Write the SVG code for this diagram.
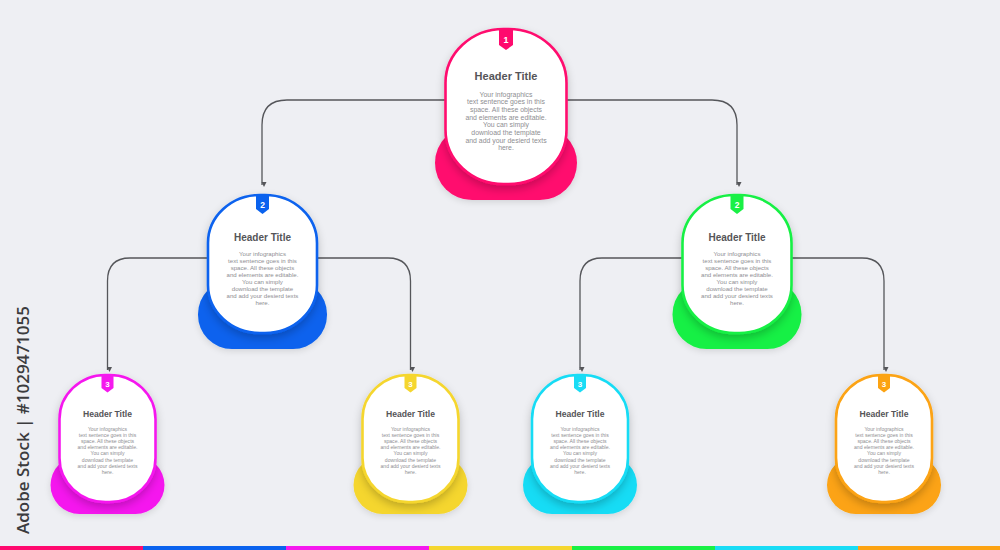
<svg xmlns="http://www.w3.org/2000/svg" width="1000" height="550" viewBox="0 0 1000 550">
<defs>
<style>
.card{fill:#ffffff;stroke-width:2.6;filter:url(#sh)}
.blob{filter:url(#sh2)}
.hd{font-family:"Liberation Sans",Arial,sans-serif;font-weight:bold;fill:#555558;text-anchor:middle}
.bd{font-family:"Liberation Sans",Arial,sans-serif;fill:#8e8e92;text-anchor:middle}
.num{font-family:"Liberation Sans",Arial,sans-serif;font-weight:bold;fill:#ffffff;text-anchor:middle}
.conn{fill:none;stroke:#55565a;stroke-width:1.3;marker-end:url(#ah)}
</style>
<filter id="sh" x="-30%" y="-20%" width="160%" height="150%">
<feDropShadow dx="0" dy="4" stdDeviation="4" flood-color="#000" flood-opacity="0.22"/>
</filter>
<filter id="sh2" x="-30%" y="-30%" width="160%" height="170%">
<feDropShadow dx="0" dy="2" stdDeviation="3" flood-color="#000" flood-opacity="0.12"/>
</filter>
<marker id="ah" markerUnits="userSpaceOnUse" markerWidth="6" markerHeight="6" refX="3" refY="5" orient="auto-start-reverse" viewBox="0 0 6 6">
<path d="M0.5,0 L5.5,0 L3,5 Z" fill="#55565a" transform="rotate(-90 3 3)"/>
</marker>
</defs>
<rect width="1000" height="550" fill="#eeeff3"/>

<g id="connectors">
<path class="conn" d="M446,100 H287 Q262,100 262,125 V185"/>
<path class="conn" d="M566,100 H712 Q737,100 737,125 V185"/>
<path class="conn" d="M208,258 H130 Q107.5,258 107.5,281 V370"/>
<path class="conn" d="M317,258 H388 Q410.5,258 410.5,281 V370"/>
<path class="conn" d="M683,258 H602 Q580,258 580,281 V370"/>
<path class="conn" d="M791,258 H862 Q884,258 884,281 V370"/>
</g>

<g id="node1">
<rect class="blob" x="435" y="126" width="142" height="74" rx="37" fill="#ff0a6e"/>
<rect class="card" x="445.5" y="29" width="121" height="155" rx="58" ry="54" stroke="#ff0a6e"/>
<path d="M499,28 H513 V45 L506,50 L499,45 Z" fill="#ff0a6e"/>
<text class="num" x="506" y="43" font-size="9">1</text>
<text class="hd" x="506" y="80" font-size="11">Header Title</text>
<text class="bd" font-size="6.9"><tspan x="506" y="96.5">Your infographics</tspan><tspan x="506" y="104.2">text sentence goes in this</tspan><tspan x="506" y="111.9">space. All these objects</tspan><tspan x="506" y="119.6">and elements are editable.</tspan><tspan x="506" y="127.3">You can simply</tspan><tspan x="506" y="135">download the template</tspan><tspan x="506" y="142.7">and add your desierd texts</tspan><tspan x="506" y="150.4">here.</tspan></text>
</g>

<g id="node2a">
<rect class="blob" x="198" y="280" width="129" height="69" rx="34" fill="#0a62ee"/>
<rect class="card" x="208" y="195" width="109" height="138" rx="52" ry="48" stroke="#0a62ee"/>
<path d="M256,194 H269 V209 L262.5,214 L256,209 Z" fill="#0a62ee"/>
<text class="num" x="262.5" y="207.5" font-size="8.5">2</text>
<text class="hd" x="262.5" y="240.5" font-size="10">Header Title</text>
<text class="bd" font-size="6.1"><tspan x="262.5" y="255.5">Your infographics</tspan><tspan x="262.5" y="262.6">text sentence goes in this</tspan><tspan x="262.5" y="269.7">space. All these objects</tspan><tspan x="262.5" y="276.8">and elements are editable.</tspan><tspan x="262.5" y="283.9">You can simply</tspan><tspan x="262.5" y="291">download the template</tspan><tspan x="262.5" y="298.1">and add your desierd texts</tspan><tspan x="262.5" y="305.2">here.</tspan></text>
</g>

<g id="node2b">
<rect class="blob" x="672.5" y="280" width="129" height="69" rx="34" fill="#19f045"/>
<rect class="card" x="682.5" y="195" width="109" height="138" rx="52" ry="48" stroke="#19f045"/>
<path d="M730.5,194 H743.5 V209 L737,214 L730.5,209 Z" fill="#19f045"/>
<text class="num" x="737" y="207.5" font-size="8.5">2</text>
<text class="hd" x="737" y="240.5" font-size="10">Header Title</text>
<text class="bd" font-size="6.1"><tspan x="737" y="255.5">Your infographics</tspan><tspan x="737" y="262.6">text sentence goes in this</tspan><tspan x="737" y="269.7">space. All these objects</tspan><tspan x="737" y="276.8">and elements are editable.</tspan><tspan x="737" y="283.9">You can simply</tspan><tspan x="737" y="291">download the template</tspan><tspan x="737" y="298.1">and add your desierd texts</tspan><tspan x="737" y="305.2">here.</tspan></text>
</g>

<g id="node3a">
<rect class="blob" x="50.5" y="456" width="114" height="58" rx="29" fill="#f519ee"/>
<rect class="card" x="59.5" y="375" width="96" height="127" rx="46" ry="44" stroke="#f519ee"/>
<path d="M101.5,374 H113.5 V388 L107.5,392.5 L101.5,388 Z" fill="#f519ee"/>
<text class="num" x="107.5" y="386.5" font-size="8">3</text>
<text class="hd" x="107.5" y="416.5" font-size="8.6">Header Title</text>
<text class="bd" font-size="5.1"><tspan x="107.5" y="431">Your infographics</tspan><tspan x="107.5" y="437.1">text sentence goes in this</tspan><tspan x="107.5" y="443.2">space. All these objects</tspan><tspan x="107.5" y="449.3">and elements are editable.</tspan><tspan x="107.5" y="455.4">You can simply</tspan><tspan x="107.5" y="461.5">download the template</tspan><tspan x="107.5" y="467.6">and add your desierd texts</tspan><tspan x="107.5" y="473.7">here.</tspan></text>
</g>

<g id="node3b">
<rect class="blob" x="353.5" y="456" width="114" height="58" rx="29" fill="#f5d62e"/>
<rect class="card" x="362.5" y="375" width="96" height="127" rx="46" ry="44" stroke="#f5d62e"/>
<path d="M404.5,374 H416.5 V388 L410.5,392.5 L404.5,388 Z" fill="#f5d62e"/>
<text class="num" x="410.5" y="386.5" font-size="8">3</text>
<text class="hd" x="410.5" y="416.5" font-size="8.6">Header Title</text>
<text class="bd" font-size="5.1"><tspan x="410.5" y="431">Your infographics</tspan><tspan x="410.5" y="437.1">text sentence goes in this</tspan><tspan x="410.5" y="443.2">space. All these objects</tspan><tspan x="410.5" y="449.3">and elements are editable.</tspan><tspan x="410.5" y="455.4">You can simply</tspan><tspan x="410.5" y="461.5">download the template</tspan><tspan x="410.5" y="467.6">and add your desierd texts</tspan><tspan x="410.5" y="473.7">here.</tspan></text>
</g>

<g id="node3c">
<rect class="blob" x="523" y="456" width="114" height="58" rx="29" fill="#19dcf5"/>
<rect class="card" x="532" y="375" width="96" height="127" rx="46" ry="44" stroke="#19dcf5"/>
<path d="M574,374 H586 V388 L580,392.5 L574,388 Z" fill="#19dcf5"/>
<text class="num" x="580" y="386.5" font-size="8">3</text>
<text class="hd" x="580" y="416.5" font-size="8.6">Header Title</text>
<text class="bd" font-size="5.1"><tspan x="580" y="431">Your infographics</tspan><tspan x="580" y="437.1">text sentence goes in this</tspan><tspan x="580" y="443.2">space. All these objects</tspan><tspan x="580" y="449.3">and elements are editable.</tspan><tspan x="580" y="455.4">You can simply</tspan><tspan x="580" y="461.5">download the template</tspan><tspan x="580" y="467.6">and add your desierd texts</tspan><tspan x="580" y="473.7">here.</tspan></text>
</g>

<g id="node3d">
<rect class="blob" x="827" y="456" width="114" height="58" rx="29" fill="#fca312"/>
<rect class="card" x="836" y="375" width="96" height="127" rx="46" ry="44" stroke="#fca312"/>
<path d="M878,374 H890 V388 L884,392.5 L878,388 Z" fill="#fca312"/>
<text class="num" x="884" y="386.5" font-size="8">3</text>
<text class="hd" x="884" y="416.5" font-size="8.6">Header Title</text>
<text class="bd" font-size="5.1"><tspan x="884" y="431">Your infographics</tspan><tspan x="884" y="437.1">text sentence goes in this</tspan><tspan x="884" y="443.2">space. All these objects</tspan><tspan x="884" y="449.3">and elements are editable.</tspan><tspan x="884" y="455.4">You can simply</tspan><tspan x="884" y="461.5">download the template</tspan><tspan x="884" y="467.6">and add your desierd texts</tspan><tspan x="884" y="473.7">here.</tspan></text>
</g>

<g id="stripe">
<rect x="0" y="546" width="143" height="4" fill="#ff0a6e"/>
<rect x="143" y="546" width="143" height="4" fill="#0a62ee"/>
<rect x="286" y="546" width="143" height="4" fill="#f519ee"/>
<rect x="429" y="546" width="143" height="4" fill="#f5d62e"/>
<rect x="572" y="546" width="143" height="4" fill="#19f045"/>
<rect x="715" y="546" width="143" height="4" fill="#19dcf5"/>
<rect x="858" y="546" width="142" height="4" fill="#fca312"/>
</g>

<text transform="translate(29,534) rotate(-90)" font-family="'Open Sans','Liberation Sans',sans-serif" font-size="17" font-weight="600" fill="#3c3c3e">Adobe Stock | #1029471055</text>
</svg>
